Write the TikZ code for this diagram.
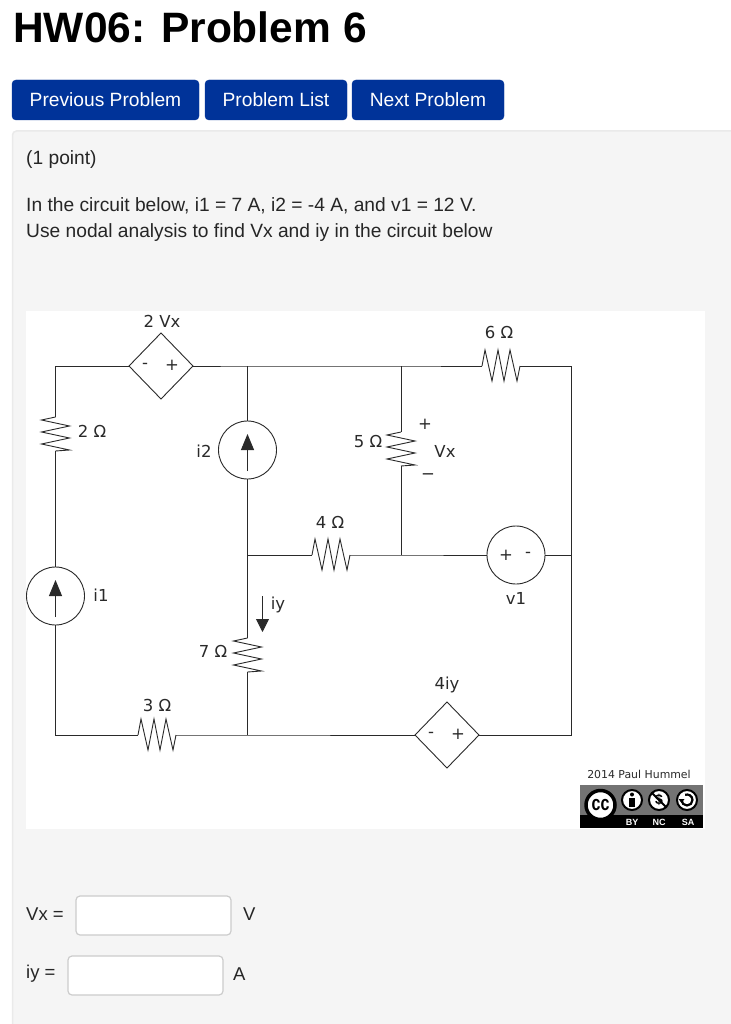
\documentclass[tikz,border=0pt]{standalone}
\usepackage{fontspec}
\setmainfont{Liberation Sans}
\newfontfamily\circfont{DejaVu Sans}
\usetikzlibrary{arrows.meta}
\usetikzlibrary{shapes.geometric}
\definecolor{navbtn}{HTML}{003399}
\definecolor{panelbg}{HTML}{F5F5F5}
\definecolor{panelln}{HTML}{EAEAEA}
\definecolor{wirecol}{HTML}{2A2A2A}
\tikzset{
  wire/.style={draw=wirecol,line width=0.9pt,line join=miter},
  lbl/.style={font=\circfont\fontsize{16.5}{18}\selectfont,text=wirecol,inner sep=0pt},
  pagetxt/.style={font=\fontsize{19.2}{22}\selectfont,text=black!85,inner sep=0pt,anchor=west},
  anstxt/.style={font=\fontsize{18.5}{20}\selectfont,text=black!85,inner sep=0pt,anchor=west},
  navbutton/.style={fill=navbtn,draw=navbtn,rounded corners=4pt,inner sep=0pt,minimum height=40pt,text=white,font=\fontsize{19.2}{22}\selectfont},
  answerbox/.style={fill=white,draw=black!20,line width=1.2pt,rounded corners=4pt,inner sep=0pt,minimum width=155pt,minimum height=39pt},
  depsrc/.style={wire,shape=diamond,shape aspect=1,inner sep=0pt,outer sep=0pt,minimum width=64pt,minimum height=66pt},
  csrc/.style={wire,circle,inner sep=0pt,outer sep=0pt,minimum size=58pt,path picture={\draw[wire,-{Triangle[length=16pt,width=13pt]}] ([yshift=-21pt]path picture bounding box.center) -- ([yshift=16pt]path picture bounding box.center);}},
  vsrc/.style={wire,circle,inner sep=0pt,outer sep=0pt,minimum size=58pt},
  ccicon/.style={circle,draw=black,fill=white,line width=2pt,inner sep=0pt,outer sep=0pt,minimum size=20pt},
  cctxt/.style={font=\bfseries\fontsize{9}{10}\selectfont,text=white,inner sep=0pt},
  resh/.pic={\coordinate (-a) at (-19,0); \coordinate (-b) at (19,0); \draw[wire] (-a) -- (-16,-16) -- (-9,15) -- (-3,-16) -- (3,15) -- (9,-16) -- (16,15) -- (-b);},
  resv/.pic={\coordinate (-a) at (0,-17); \coordinate (-b) at (0,17); \draw[wire] (-a) -- (-14,-14) -- (14,-8) -- (-14,-2) -- (14,4) -- (-14,10) -- (14,16) -- (-b);}
}
\begin{document}
\begin{tikzpicture}[x=1pt,y=-1pt]
  \useasboundingbox (0,0) rectangle (730,1024);
  %page
  \fill[white] (0,0) rectangle (730,1024);
  \draw[fill=panelbg,draw=panelln,line width=1.5pt,rounded corners=4pt] (12.5,131) -- (740,131) -- (740,1034) -- (12.5,1034) -- cycle;
  \node[anchor=west,inner sep=0pt,font=\bfseries\fontsize{42.5}{46}\selectfont] (title) at (13,27) {HW06: Problem 6};
  %buttons
  \node[navbutton,minimum width=187pt] (prevbtn) at (105.5,100) {Previous Problem};
  \node[navbutton,minimum width=142pt] (listbtn) at (276,100) {Problem List};
  \node[navbutton,minimum width=152pt] (nextbtn) at (428,100) {Next Problem};
  \node[pagetxt] (point) at (26,159.5) {(1 point)};
  \node[pagetxt] (line1) at (26,205.5) {In the circuit below, i1 = 7 A, i2 = -4 A, and v1 = 12 V.};
  \node[pagetxt] (line2) at (26,232.5) {Use nodal analysis to find Vx and iy in the circuit below};
  %answers
  \node[anstxt] (vxeq) at (26,914) {Vx =};
  \node[answerbox] (vxbox) at (153.5,915.5) {};
  \node[anstxt] (vxunit) at (243,914) {V};
  \node[anstxt] (iyeq) at (26,974) {iy =};
  \node[answerbox] (iybox) at (145.5,975.5) {};
  \node[anstxt] (iyunit) at (233,974) {A};

  %figure
  \fill[white] (26,311) rectangle (705,829);
  %corners and junctions
  \coordinate (tl) at (55.5,366);
  \coordinate (tr) at (571.5,366);
  \coordinate (bl) at (55.5,735);
  \coordinate (br) at (571.5,735);
  \coordinate (jtop) at (247.5,366);
  \coordinate (jfive) at (401,366);
  \coordinate (jmid) at (247.5,555);
  \coordinate (jfour) at (401,555);
  \coordinate (jbot) at (247.5,735);
  \coordinate (jright) at (571.5,555);
  %sources
  \node[depsrc] (dvx) at (161,366) {};
  \node[depsrc] (diy) at (447,735) {};
  \node[csrc] (ione) at (55.5,596) {};
  \node[csrc] (itwo) at (247.5,450) {};
  \node[vsrc] (vone) at (516,555) {};
  %resistors
  \pic[name=rtwo,at={(55.5,434)}] {resv};
  \pic[name=rfive,at={(401,449)}] {resv};
  \pic[name=rseven,at={(247.5,655)}] {resv};
  \pic[name=rsix,at={(501,366)}] {resh};
  \pic[name=rfour,at={(331,555)}] {resh};
  \pic[name=rthree,at={(157,735)}] {resh};
  %wires
  \draw[wire] (rtwo-a) -- (tl) -- (dvx.west);
  \draw[wire] (rtwo-b) -- (ione.north);
  \draw[wire] (ione.south) -- (bl) -- (rthree-a);
  \draw[wire] (rthree-b) -- (jbot) -- (diy.west);
  \draw[wire] (diy.east) -- (br) -- (tr) -- (rsix-b);
  \draw[wire] (rsix-a) -- (jfive) -- (jtop) -- (dvx.east);
  \draw[wire] (jtop) -- (itwo.north);
  \draw[wire] (itwo.south) -- (jmid) -- (rseven-a);
  \draw[wire] (rseven-b) -- (jbot);
  \draw[wire] (jmid) -- (rfour-a);
  \draw[wire] (rfour-b) -- (jfour) -- (vone.west);
  \draw[wire] (vone.east) -- (jright);
  \draw[wire] (jfive) -- (rfive-a);
  \draw[wire] (rfive-b) -- (jfour);
  %iy arrow
  \coordinate (iytop) at (262.5,596);
  \coordinate (iytip) at (262.5,632);
  \draw[wire,-{Triangle[length=13pt,width=13pt]}] (iytop) -- (iytip);
  %labels
  \node[lbl] (lvx) at (162,321) {2 Vx};
  \node[lbl] (lvxm) at (145,366) {-};
  \node[lbl] (lvxp) at (172,365) {+};
  \node[lbl] (ltwo) at (92,431) {2 Ω};
  \node[lbl] (lione) at (101,595) {i1};
  \node[lbl] (litwo) at (204,451) {i2};
  \node[lbl] (lsix) at (499,332) {6 Ω};
  \node[lbl] (lfive) at (368,442) {5 Ω};
  \node[lbl] (lplus) at (425,424) {+};
  \node[lbl] (lvolt) at (445,451) {Vx};
  \node[lbl] (lminus) at (428,477) {−};
  \node[lbl] (lfour) at (330,522) {4 Ω};
  \node[lbl] (lvp) at (506,555) {+};
  \node[lbl] (lvm) at (528,555) {-};
  \node[lbl] (lvone) at (516,598) {v1};
  \node[lbl] (liy) at (278,605) {iy};
  \node[lbl] (lseven) at (213,651) {7 Ω};
  \node[lbl] (lfouriy) at (447,685) {4iy};
  \node[lbl] (lthree) at (157,705) {3 Ω};
  \node[lbl] (lym) at (431,735) {-};
  \node[lbl] (lyp) at (458,734) {+};

  %credit and licence badge
  \node[lbl,font=\circfont\fontsize{10.9}{12}\selectfont] (credit) at (639,774) {2014 Paul Hummel};
  \fill[black!55] (580,785) rectangle (703,815);
  \fill[black] (580,815) rectangle (703,828);
  \node[circle,draw=black,fill=white,line width=3.5pt,minimum size=29pt,inner sep=0pt,font=\bfseries\fontsize{16}{16}\selectfont] (cc) at (600.5,805) {\scalebox{1}[1.3]{cc}};
  \node[ccicon] (by) at (632,800) {};
  \node[ccicon] (nc) at (659,800) {};
  \node[ccicon] (sa) at (687,800) {};
  \fill (by.center) ++(0,-5.5) circle (2);
  \fill ([shift={(-2.8,-2.5)}]by.center) rectangle ([shift={(2.8,7)}]by.center);
  \node[inner sep=0pt,font=\bfseries\fontsize{14}{14}\selectfont] (ncd) at (nc.center) {\$};
  \draw[line width=1.8pt] (nc.north west) -- (nc.south east);
  \draw[line width=2.2pt] ([shift={(-5.5,0)}]sa.center) arc (180:-110:5.5);
  \fill ([shift={(-8.5,-1)}]sa.center) -- ([shift={(-2.5,-1)}]sa.center) -- ([shift={(-5.5,3)}]sa.center) -- cycle;
  \node[cctxt] (bytxt) at (632,822) {BY};
  \node[cctxt] (nctxt) at (659,822) {NC};
  \node[cctxt] (satxt) at (688,822) {SA};
\end{tikzpicture}
\end{document}
